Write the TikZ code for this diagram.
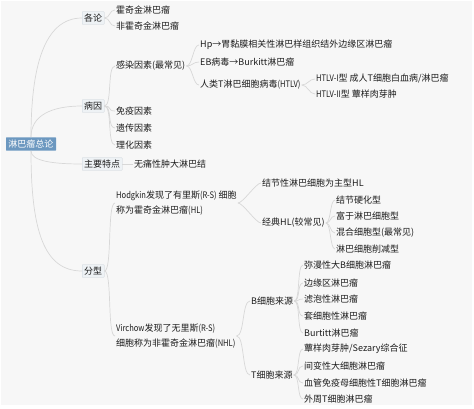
\documentclass[tikz,border=0pt]{standalone}
\usepackage{fontspec}
\setmainfont{Noto Sans CJK SC}
\newfontfamily\nar{Noto Sans CJK SC}[FakeStretch=0.84]
\definecolor{bgc}{HTML}{F7F7F7}
\definecolor{rootc}{HTML}{6C98C0}
\definecolor{boxfill}{HTML}{EEF2F5}
\definecolor{boxline}{HTML}{C9D1D9}
\definecolor{linec}{HTML}{D8D8D8}
\definecolor{txtc}{HTML}{1C1C1C}
\begin{document}
\begin{tikzpicture}[x=1pt,y=-1pt,
  font=\fontsize{9}{15}\selectfont,
  rootbox/.style={fill=rootc,text=white,inner sep=2.5pt,minimum height=12.5pt,rounded corners=0.5pt},
  lonebox/.style={anchor=west,fill=boxfill,draw=boxline,line width=0.4pt,inner sep=2pt,minimum height=12.5pt,rounded corners=0.5pt,text=txtc},
  txt/.style={anchor=west,inner sep=1pt,text=txtc,align=left},
  conn/.style={draw=linec,line width=0.7pt}]
\fill[white] (0,0) rectangle (474,409);
\fill[bgc] (1,1) rectangle (472,405);
% root
\node[rootbox] (root) at (31,144) {淋巴瘤总论};
% level 1
\node[lonebox] (gl) at (82,18) {各论};
\node[lonebox] (by) at (82,106) {病因};
\node[lonebox] (td) at (82,164) {主要特点};
\node[lonebox] (fx) at (82,271) {分型};
% level 2
\node[txt] (hq) at (115,10) {霍奇金淋巴瘤};
\node[txt] (fhq) at (115,26) {非霍奇金淋巴瘤};
\node[txt] (gr) at (115,66) {感染因素(最常见)};
\node[txt] (my) at (115,111) {免疫因素};
\node[txt] (yc) at (115,128) {遗传因素};
\node[txt] (lh) at (115,145) {理化因素};
\node[txt] (wt) at (133,164) {无痛性肿大淋巴结};
\node[txt] (hd) at (115,203) {{\nar Hodgkin}发现了有里斯{\nar(R-S)} 细胞\\称为霍奇金淋巴瘤{\nar(HL)}};
\node[txt] (vc) at (115,336) {{\nar Virchow}发现了无里斯{\nar(R-S)}\\细胞称为非霍奇金淋巴瘤{\nar(NHL)}};
% level 3
\node[txt] (hp) at (199,45) {Hp→胃黏膜相关性淋巴样组织结外边缘区淋巴瘤};
\node[txt] (eb) at (199,62) {EB病毒→Burkitt淋巴瘤};
\node[txt] (ht) at (199,85) {人类T淋巴细胞病毒{\nar(HTLV)}};
\node[txt] (h1) at (315,79) {{\nar HTLV-I}型 成人T细胞白血病/淋巴瘤};
\node[txt] (h2) at (315,94) {{\nar HTLV-II}型 蕈样肉芽肿};
\node[txt] (jj) at (261,183) {结节性淋巴细胞为主型HL};
\node[txt] (jd) at (261,223) {经典HL(较常见)};
\node[txt] (y1) at (335,200) {结节硬化型};
\node[txt] (y2) at (335,216) {富于淋巴细胞型};
\node[txt] (y3) at (335,233) {混合细胞型(最常见)};
\node[txt] (y4) at (335,249) {淋巴细胞削减型};
\node[txt] (bc) at (250,301) {B细胞来源};
\node[txt] (tc) at (250,375) {T细胞来源};
\node[txt] (b1) at (303,265) {弥漫性大B细胞淋巴瘤};
\node[txt] (b2) at (303,283) {边缘区淋巴瘤};
\node[txt] (b3) at (303,299) {滤泡性淋巴瘤};
\node[txt] (b4) at (303,316) {套细胞性淋巴瘤};
\node[txt] (b5) at (303,333) {Burtitt淋巴瘤};
\node[txt] (t1) at (303,349) {蕈样肉芽肿/Sezary综合征};
\node[txt] (t2) at (303,366) {间变性大细胞淋巴瘤};
\node[txt] (t3) at (303,383) {血管免疫母细胞性T细胞淋巴瘤};
\node[txt] (t4) at (303,399) {外周T细胞淋巴瘤};
% root connectors
\draw[conn] (root.north) .. controls +(0,-70) and +(-38,0) .. (gl.west);
\draw[conn] (root.north) .. controls +(0,-22) and +(-30,0) .. (by.west);
\draw[conn] (root.south) .. controls +(0,10) and +(-30,0) .. (td.west);
\draw[conn] (root.south) .. controls +(0,80) and +(-38,0) .. (fx.west);
% level-2 connectors
\foreach \c in {hq,fhq} \draw[conn] (gl.east) .. controls +(6,0) and +(-6,0) .. (\c.west);
\foreach \c in {gr,my,yc,lh} \draw[conn] (by.east) .. controls +(8,0) and +(-8,0) .. (\c.west);
\draw[conn] (td.east) -- (wt.west);
\foreach \c in {hd,vc} \draw[conn] (fx.east) .. controls +(8,0) and +(-8,0) .. (\c.west);
% level-3 connectors
\foreach \c in {hp,eb,ht} \draw[conn] (gr.east) .. controls +(6,0) and +(-6,0) .. (\c.west);
\foreach \c in {h1,h2} \draw[conn] (ht.east) .. controls +(6,0) and +(-6,0) .. (\c.west);
\foreach \c in {jj,jd} \draw[conn] (hd.east) .. controls +(5,0) and +(-5,0) .. (\c.west);
\foreach \c in {y1,y2,y3,y4} \draw[conn] (jd.east) .. controls +(5,0) and +(-5,0) .. (\c.west);
\foreach \c in {bc,tc} \draw[conn] (vc.east) .. controls +(8,0) and +(-8,0) .. (\c.west);
\foreach \c in {b1,b2,b3,b4,b5} \draw[conn] (bc.east) .. controls +(6,0) and +(-6,0) .. (\c.west);
\foreach \c in {t1,t2,t3,t4} \draw[conn] (tc.east) .. controls +(6,0) and +(-6,0) .. (\c.west);
\end{tikzpicture}
\end{document}
